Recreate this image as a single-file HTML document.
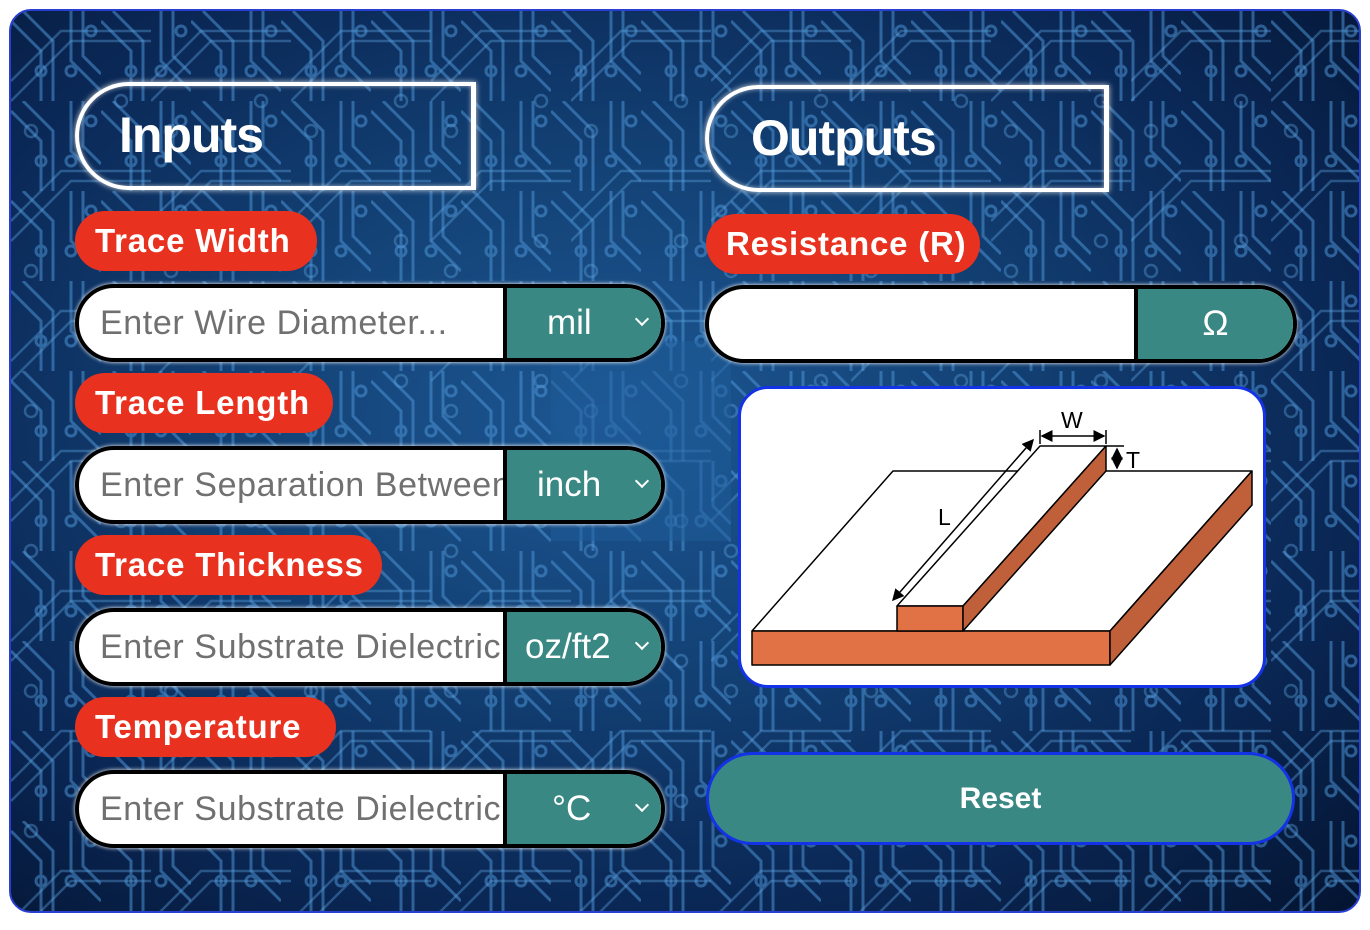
<!DOCTYPE html>
<html><head><meta charset="utf-8"><style>
*{box-sizing:border-box;margin:0;padding:0}
body{width:1370px;height:930px;background:#fff;position:relative;overflow:hidden;font-family:"Liberation Sans",sans-serif}
.frame{position:absolute;left:9px;top:9px;width:1352px;height:904px;border-radius:22px;border:2px solid #2a3fd0;overflow:hidden;
background:radial-gradient(ellipse at 45% 45%,#1d5793 0%,#134276 35%,#0a2755 70%,#041431 100%)}
.frame svg.bg{position:absolute;left:0;top:0}
.hdr{position:absolute;border:4px solid #fff;border-right-width:5px;border-radius:56px 0 0 56px;box-shadow:0 0 6px rgba(255,255,255,.8),inset 0 0 5px rgba(255,255,255,.6)}
.hdr span{position:absolute;left:40px;top:20px;color:#fff;font-weight:bold;font-size:50px;letter-spacing:-1px}
.pill{position:absolute;background:#e8311f;border-radius:30px;color:#fff;font-weight:bold;font-size:33px;letter-spacing:.8px;height:60px;line-height:60px;padding-left:20px;white-space:nowrap}
.inp{position:absolute;height:78px;border:4px solid #000;border-radius:40px;overflow:hidden;background:#fff;box-shadow:0 0 4px #fff}
.inp .ph{position:absolute;left:21px;top:0;line-height:70px;font-size:34px;letter-spacing:.6px;color:#707070;white-space:nowrap}
.inp .unit{position:absolute;top:0;bottom:0;right:0;background:#3a8883;color:#fff;font-size:35px;line-height:70px;border-left:4px solid #000}
.chev{position:absolute;right:14px;top:26px;width:10px;height:10px;border-right:2px solid #fff;border-bottom:2px solid #fff;transform:rotate(45deg)}
</style></head><body>
<div class="frame">
<svg class="bg" width="1352" height="904" viewBox="0 0 1352 904">
<defs>
<pattern id="p" width="90" height="90" patternUnits="userSpaceOnUse">
<g stroke="#4a92d4" stroke-width="3" fill="none" opacity=".55">
<path d="M0 10 L30 40 L30 90"/><path d="M12 0 L42 30 L42 90"/><path d="M60 0 L60 50 L90 80"/><path d="M72 0 L72 45 L90 63"/>
<circle cx="30" cy="60" r="5"/><circle cx="60" cy="60" r="5"/><circle cx="80" cy="20" r="5"/>
</g></pattern>
<pattern id="q" width="140" height="140" patternUnits="userSpaceOnUse">
<g stroke="#5aa0dc" stroke-width="2.5" fill="none" opacity=".4">
<path d="M0 70 L50 20 L140 20"/><path d="M0 90 L60 30 L140 30"/><circle cx="110" cy="90" r="6"/><circle cx="20" cy="120" r="6"/>
</g></pattern>
</defs>
<rect width="1352" height="904" fill="url(#p)"/>
<rect width="1352" height="904" fill="url(#q)"/>
<rect x="540" y="330" width="180" height="200" fill="#1d5c98" opacity=".5"/>
</svg>
</div>

<div class="hdr" style="left:75px;top:82px;width:401px;height:108px"><span>Inputs</span></div>
<div class="hdr" style="left:705px;top:85px;width:404px;height:107px"><span style="left:42px">Outputs</span></div>

<div class="pill" style="left:75px;top:211px;width:242px">Trace Width</div>
<div class="inp" style="left:75px;top:284px;width:590px"><div class="ph">Enter Wire Diameter...</div><div class="unit" style="width:158px"><span style="position:absolute;left:40px">mil</span><i class="chev"></i></div></div>

<div class="pill" style="left:75px;top:373px;width:258px">Trace Length</div>
<div class="inp" style="left:75px;top:446px;width:590px"><div class="ph">Enter Separation Between</div><div class="unit" style="width:158px"><span style="position:absolute;left:30px">inch</span><i class="chev"></i></div></div>

<div class="pill" style="left:75px;top:535px;width:307px">Trace Thickness</div>
<div class="inp" style="left:75px;top:608px;width:590px"><div class="ph">Enter Substrate Dielectric</div><div class="unit" style="width:158px"><span style="position:absolute;left:18px">oz/ft2</span><i class="chev"></i></div></div>

<div class="pill" style="left:75px;top:697px;width:261px">Temperature</div>
<div class="inp" style="left:75px;top:770px;width:590px"><div class="ph">Enter Substrate Dielectric</div><div class="unit" style="width:158px"><span style="position:absolute;left:45px">°C</span><i class="chev"></i></div></div>

<div class="pill" style="left:706px;top:214px;width:274px">Resistance (R)</div>
<div class="inp" style="left:705px;top:285px;width:592px"><div class="unit" style="width:159px;text-align:center">Ω</div></div>

<div style="position:absolute;left:738px;top:386px;width:528px;height:302px;background:#fff;border:3px solid #1432e6;border-radius:30px"></div>
<svg style="position:absolute;left:0;top:0" width="1370" height="930">
<defs><marker id="a" markerWidth="8" markerHeight="8" refX="7" refY="4" orient="auto-start-reverse"><path d="M0,0 L8,4 L0,8 z" fill="#000"/></marker></defs>
<g stroke="#000" stroke-width="1.5" stroke-linejoin="round">
<polygon points="893,471 1252,471 1110,631 752,631" fill="#fff"/>
<polygon points="752,631 1110,631 1110,665 752,665" fill="#e07246"/>
<polygon points="1110,631 1252,471 1252,505 1110,665" fill="#c0603a"/>
<polygon points="1040,446 1106,446 963,606 897,606" fill="#fff"/>
<polygon points="897,606 963,606 963,631 897,631" fill="#e07246"/>
<polygon points="963,606 1106,446 1106,471 963,631" fill="#c0603a"/>
<line x1="1042" y1="436" x2="1104" y2="436" marker-start="url(#a)" marker-end="url(#a)"/><line x1="1040" y1="430" x2="1040" y2="444"/><line x1="1106" y1="430" x2="1106" y2="444"/>
<line x1="1033" y1="440" x2="893" y2="600" marker-start="url(#a)" marker-end="url(#a)"/>
<line x1="1106" y1="446" x2="1124" y2="446"/><line x1="1117" y1="449" x2="1117" y2="468" marker-start="url(#a)" marker-end="url(#a)"/>
</g>
<g font-family="Liberation Sans,sans-serif" font-size="23" fill="#000">
<text x="1061" y="428">W</text><text x="1126" y="468">T</text><text x="938" y="525">L</text>
</g>
</svg>

<div style="position:absolute;left:706px;top:752px;width:589px;height:93px;background:#3a8883;border:3px solid #1432e6;border-radius:47px;color:#fff;font-weight:bold;font-size:30px;text-align:center;line-height:87px">Reset</div>
</body></html>
